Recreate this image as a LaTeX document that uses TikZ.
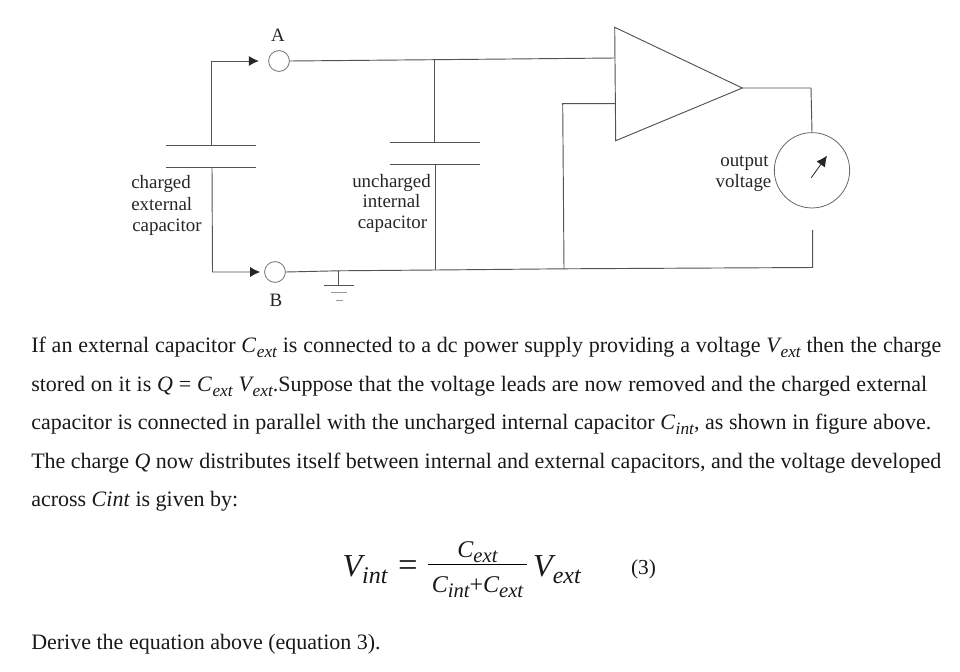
\documentclass[tikz,border=0pt]{standalone}
\usepackage{fontspec}
\setmainfont{Liberation Serif}
\usetikzlibrary{arrows.meta}
\newcommand{\mv}[2]{{\itshape #1\kern.03em\raisebox{-.25em}{\fontsize{13}{15}\selectfont #2}}}
\newcommand{\bigv}[2]{{\fontsize{24}{28}\selectfont\itshape #1\raisebox{-.22em}{\fontsize{18}{20}\selectfont #2}}}
\newcommand{\fracv}[2]{{\fontsize{18}{20}\selectfont\itshape #1\raisebox{-.22em}{\fontsize{15.5}{18}\selectfont #2}}}
\tikzset{
  wire/.style={draw=black!68,line width=.7pt},
  tipwire/.style={wire,-{Latex[length=7.5pt,width=7.5pt,color=black!85]}},
  terminal/.style={circle,draw=black!55,line width=.6pt,fill=white,minimum size=15.6pt,inner sep=0pt},
  meter/.style={circle,draw=black!60,line width=.6pt,minimum size=56.5pt,inner sep=0pt},
  lab/.style={inner sep=0pt,anchor=base,font=\fontsize{14.2}{16}\selectfont,text=black!85},
  body/.style={inner sep=0pt,anchor=base west,font=\fontsize{16.5}{18}\selectfont,text=black!90},
  eq/.style={inner sep=0pt,anchor=base,text=black!90}
}
\begin{document}
\begin{tikzpicture}[x=.75pt,y=-.75pt]
\useasboundingbox (0,0) rectangle (960,671);
% terminals and meter
\node[terminal] (A) at (279,61) {};
\node[terminal] (B) at (275,272) {};
\node[meter] (M) at (812,170.3) {};
% named points
\coordinate (extTopL) at (166,145);
\coordinate (extTopR) at (256,145);
\coordinate (extBotL) at (166,167);
\coordinate (extBotR) at (256,167);
\coordinate (extT) at (211,145);
\coordinate (extB) at (212,167);
\coordinate (intTopL) at (389.5,142.3);
\coordinate (intTopR) at (480,142.3);
\coordinate (intBotL) at (389.5,164.7);
\coordinate (intBotR) at (480,164.7);
\coordinate (intT) at (434.3,142.3);
\coordinate (intB) at (435.8,164.7);
\coordinate (jT) at (434.3,59.7);
\coordinate (jB) at (435.8,270);
\coordinate (gnd) at (338,270.8);
\coordinate (gnd1) at (338,285.7);
\coordinate (ampT) at (614.7,27.3);
\coordinate (ampO) at (742.3,88);
\coordinate (ampL) at (615.7,140.7);
\coordinate (inP) at (615,58);
\coordinate (inN) at (615.3,103.7);
\coordinate (jN) at (564,268.8);
\coordinate (mEnd) at (812.7,230);
\coordinate (mCorner) at (812.7,267.5);
% external capacitor
\draw[wire] (extTopL) -- (extTopR);
\draw[wire] (extBotL) -- (extBotR);
\draw[tipwire] (extT) -- (211,61) -- ([xshift=-7pt]A.west);
\draw[tipwire] (extB) -- (212.5,272) -- ([xshift=-3pt]B.west);
% main rails
\draw[wire] (A.east) -- (jT) -- (inP);
\draw[wire] (B.east) -- (gnd) -- (jB) -- (jN) -- (mCorner) -- (mEnd);
% internal capacitor
\draw[wire] (intTopL) -- (intTopR);
\draw[wire] (intBotL) -- (intBotR);
\draw[wire] (jT) -- (intT);
\draw[wire] (intB) -- (jB);
% ground
\draw[wire] (gnd) -- (gnd1);
\draw[wire] (324,285.7) -- (353.5,285.7);
\draw[draw=black!40,line width=.6pt] (331,292.5) -- (347,292.5);
\draw[draw=black!40,line width=.6pt] (336,300) -- (343,300);
% amplifier
\draw[wire,line join=miter] (ampT) -- (ampO) -- (ampL) -- cycle;
\draw[wire] (inN) -- (562.7,103.7) -- (jN);
\draw[wire] (ampO) -- (811,88) -- (M.north);
% meter needle
\draw[draw=black!85,line width=.6pt,-{Latex[length=8pt,width=8pt]}] (811.3,177.7) -- (827,155.7);
% labels
\node[lab] (lA) at (278,41.5) {A};
\node[lab] (lB) at (276,306) {B};
\node[lab,anchor=base west] (c1) at (131,188) {charged};
\node[lab,anchor=base west] (c2) at (131,210) {external};
\node[lab,anchor=base west] (c3) at (132,231) {capacitor};
\node[lab] (u1) at (391.5,187) {uncharged};
\node[lab] (u2) at (391.5,207) {internal};
\node[lab] (u3) at (392.5,228) {capacitor};
\node[lab] (o1) at (744.5,166) {output};
\node[lab] (o2) at (743.5,187) {voltage};
% body text
\node[body] (t1) at (31,352) {\hbox to 682.5pt{If an external capacitor \mv{C}{ext} is connected to a dc power supply providing a voltage \mv{V}{ext} then the charge}};
\node[body] (t2) at (31,391) {\hbox to 672pt{stored on it is \textit{Q} = \mv{C}{ext} \mv{V}{ext}.Suppose that the voltage leads are now removed and the charged external}};
\node[body] (t3) at (31,429) {\hbox to 675pt{capacitor is connected in parallel with the uncharged internal capacitor \mv{C}{int}, as shown in figure above.}};
\node[body] (t4) at (31,468) {\hbox to 682.5pt{The charge \textit{Q} now distributes itself between internal and external capacitors, and the voltage developed}};
\node[body] (t5) at (31,506) {across \textit{Cint} is given by:};
% equation
\node[eq] (e1) at (365,576) {\bigv{V}{int}};
\node[eq] (e2) at (408,576) {\fontsize{26}{28}\selectfont =};
\node[eq] (en) at (477.5,557) {\fracv{C}{ext}};
\draw[draw=black,line width=.9pt] (428,564.8) -- (527,564.8);
\node[eq] (ed) at (477.5,592) {\fracv{C}{int}{\fontsize{18}{20}\selectfont +}\fracv{C}{ext}};
\node[eq] (e3) at (557,576) {\bigv{V}{ext}};
\node[eq] (e4) at (643.5,574) {\fontsize{16}{18}\selectfont (3)};
\node[body] (t6) at (31,649) {Derive the equation above (equation 3).};
\end{tikzpicture}
\end{document}
